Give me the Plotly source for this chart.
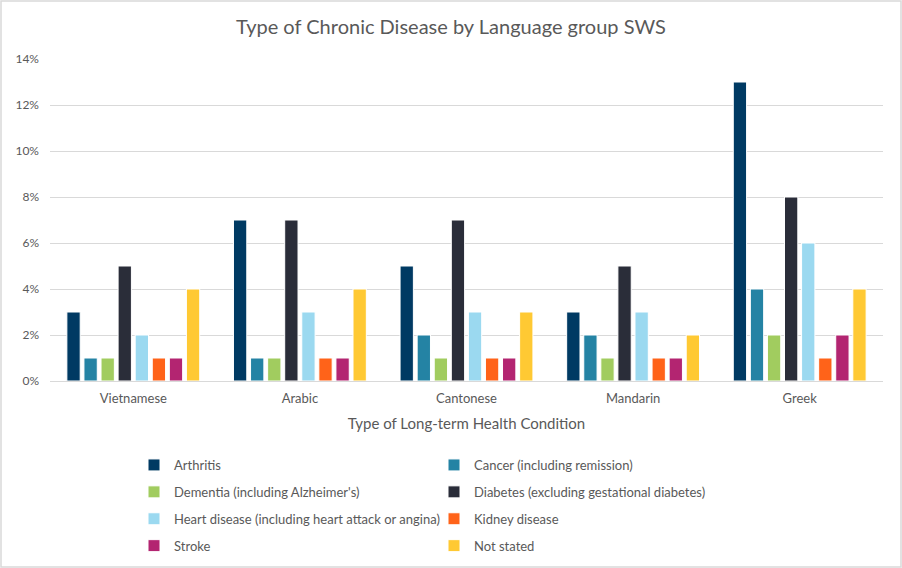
import plotly.graph_objects as go

languages = ["Vietnamese", "Arabic", "Cantonese", "Mandarin", "Greek"]
series_names = [
    "Arthritis",
    "Cancer (including remission)",
    "Dementia (including Alzheimer's)",
    "Diabetes (excluding gestational diabetes)",
    "Heart disease (including heart attack or angina)",
    "Kidney disease",
    "Stroke",
    "Not stated",
]
arthritis = [3, 7, 5, 3, 13]
cancer = [1, 1, 2, 2, 4]
dementia = [1, 1, 1, 1, 2]
diabetes = [5, 7, 7, 5, 8]
heart = [2, 3, 3, 3, 6]
kidney = [1, 1, 1, 1, 1]
stroke = [1, 1, 1, 1, 2]
not_stated = [4, 4, 3, 2, 4]
series_values = [arthritis, cancer, dementia, diabetes, heart, kidney, stroke, not_stated]
colors = ["#003A63", "#2483A4", "#A1CC5F", "#2A2D39", "#9BD9F0", "#FF6319", "#B32571", "#FFC933"]
legend_col = ["legend", "legend2", "legend", "legend2", "legend", "legend2", "legend", "legend2"]
y_ticks = [0, 2, 4, 6, 8, 10, 12, 14]
y_tick_labels = ["0%", "2%", "4%", "6%", "8%", "10%", "12%", "14%"]

FONT = "Lato, Open Sans, sans-serif"
GRAY = "#595959"

fig = go.Figure()
for i, (name, vals) in enumerate(zip(series_names, series_values)):
    fig.add_trace(go.Bar(
        x=languages, y=vals, name=name,
        marker=dict(color=colors[i], line=dict(color="white", width=1)),
        legend=legend_col[i], legendgroup=name,
    ))

W, H = 902, 568
L, R, T, B = 50, 19, 59, 187
pw, ph = W - L - R, H - T - B

leg_common = dict(
    orientation="v", font=dict(family=FONT, size=13, color=GRAY),
    bgcolor="rgba(0,0,0,0)", tracegroupgap=7, itemwidth=30,
    xanchor="left", yanchor="top",
)
fig.update_layout(
    width=W, height=H,
    margin=dict(l=L, r=R, t=T, b=B, autoexpand=False),
    paper_bgcolor="white", plot_bgcolor="white",
    barmode="group", bargap=0.18, bargroupgap=0.22,
    font=dict(family=FONT, color=GRAY),
    title=dict(text="Type of Chronic Disease by Language group SWS",
               x=0.5, xanchor="center", y=1 - 27 / H, yanchor="middle",
               font=dict(family=FONT, size=20, color=GRAY)),
    xaxis=dict(
        showgrid=False, showline=False, ticks="", automargin=False,
        tickfont=dict(family=FONT, size=13, color=GRAY), ticklabelstandoff=8,
        title=dict(text="Type of Long-term Health Condition",
                   font=dict(family=FONT, size=15, color=GRAY), standoff=13),
    ),
    yaxis=dict(
        range=[0, 14], tickvals=y_ticks, ticktext=y_tick_labels, automargin=False,
        showgrid=True, gridcolor="#D9D9D9", gridwidth=1,
        zeroline=True, zerolinecolor="#D9D9D9", zerolinewidth=1,
        tickfont=dict(family=FONT, size=12, color=GRAY), ticklabelstandoff=10,
    ),
    legend=dict(x=(134 - L) / pw, y=(381 - 450) / ph, **leg_common),
    legend2=dict(x=(434 - L) / pw, y=(381 - 450) / ph, **leg_common),
    shapes=[dict(type="rect", xref="paper", yref="paper",
                 x0=-(L - 1) / pw, x1=(W - L - 1) / pw,
                 y0=-(B - 1) / ph, y1=1 + (T - 1) / ph,
                 line=dict(color="#D9D9D9", width=1.5), layer="below")],
)
fig.write_html("out.html")
